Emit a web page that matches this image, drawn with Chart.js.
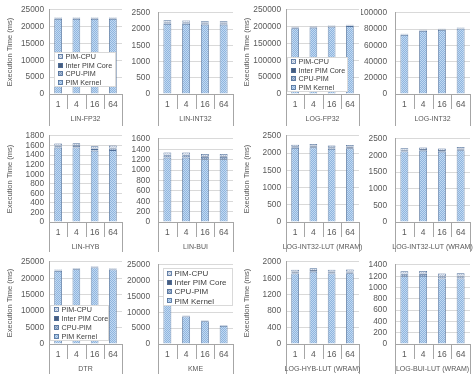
<!DOCTYPE html>
<html><head><meta charset="utf-8">
<script src="https://cdn.jsdelivr.net/npm/chart.js@4.4.1/dist/chart.umd.min.js"></script>
<style>
html,body{margin:0;padding:0;background:#fff;width:474px;height:379px;overflow:hidden}
canvas{position:absolute}
</style></head><body>
<script>
// ---------- DATA ----------
const categories = ['1', '4', '16', '64'];
const seriesNames = ['PIM Kernel', 'CPU-PIM', 'Inter PIM Core', 'PIM-CPU'];
const chartTitles = ['LIN-FP32', 'LIN-INT32', 'LOG-FP32', 'LOG-INT32',
  'LIN-HYB', 'LIN-BUI', 'LOG-INT32-LUT (MRAM)', 'LOG-INT32-LUT (WRAM)',
  'DTR', 'KME', 'LOG-HYB-LUT (WRAM)', 'LOG-BUI-LUT (WRAM)'];
const yMax = [25000, 2500, 250000, 100000, 1800, 1600, 2500, 2500, 25000, 25000, 2000, 1400];
const yStep = [5000, 500, 50000, 20000, 200, 200, 500, 500, 5000, 5000, 400, 200];

// each: [PIM Kernel, CPU-PIM, Inter PIM Core, PIM-CPU]
const linFp32 = [[22350, 22350, 22350, 22350], [150, 150, 150, 150], [100, 100, 100, 100], [150, 150, 150, 150]];
const linInt32 = [[2165, 2165, 2135, 2135], [40, 40, 40, 40], [25, 25, 30, 30], [45, 40, 40, 40]];
const logFp32 = [[196000, 197500, 200000, 202000], [1500, 1500, 1500, 1500], [800, 800, 800, 800], [1700, 1700, 1700, 1700]];
const logInt32 = [[73000, 77800, 79000, 80500], [600, 600, 600, 600], [300, 300, 300, 300], [600, 600, 600, 600]];
const linHyb = [[1555, 1560, 1490, 1505], [30, 30, 35, 35], [15, 15, 15, 15], [45, 45, 45, 45]];
const linBui = [[1240, 1240, 1210, 1210], [45, 45, 45, 45], [10, 10, 10, 10], [45, 45, 45, 45]];
const logInt32LutMram = [[2150, 2170, 2125, 2140], [20, 20, 20, 20], [30, 30, 30, 35], [45, 45, 45, 45]];
const logInt32LutWram = [[2125, 2145, 2115, 2160], [20, 20, 20, 20], [30, 30, 30, 30], [45, 45, 45, 45]];
const dtr = [[22300, 22800, 23300, 22700], [150, 150, 150, 150], [100, 100, 100, 100], [150, 150, 150, 150]];
const kme = [[23100, 8700, 7200, 5700], [150, 120, 120, 120], [100, 80, 80, 80], [150, 100, 100, 100]];
const logHybLutWram = [[1720, 1760, 1720, 1725], [20, 20, 20, 20], [25, 25, 25, 25], [45, 45, 45, 45]];
const logBuiLutWram = [[1200, 1205, 1160, 1160], [35, 35, 35, 35], [10, 10, 10, 15], [45, 45, 45, 45]];

const allValues = [linFp32, linInt32, logFp32, logInt32, linHyb, linBui,
  logInt32LutMram, logInt32LutWram, dtr, kme, logHybLutWram, logBuiLutWram];

// ---------- STYLE / LAYOUT ----------
const FONT = '"Liberation Sans", Arial, sans-serif';
const TXT = '#595959';
const AXIS = '#A6A6A6';
const GRID = '#D9D9D9';

function makePattern(base, dot) {
  const c = document.createElement('canvas');
  c.width = 2; c.height = 2;
  const g = c.getContext('2d');
  g.fillStyle = base; g.fillRect(0, 0, 2, 2);
  g.fillStyle = dot; g.fillRect(0, 0, 1, 1); g.fillRect(1, 1, 1, 1);
  return g.createPattern(c, 'repeat');
}
const fills = [
  makePattern('#C2D9F1', '#8FB5DF'),   // PIM Kernel
  makePattern('#AFC2DB', '#7E96B8'),   // CPU-PIM
  '#475C7E',                           // Inter PIM Core
  makePattern('#E2E8F1', '#B3C2D8')    // PIM-CPU
];

const cols = [
  { left: 0, w: 130, axisW: 49, padR: 8, tickPad: 5, title: true },
  { left: 124, w: 113, axisW: 34, padR: 4, tickPad: 8, title: false },
  { left: 237, w: 130, axisW: 49, padR: 8, tickPad: 5, title: true },
  { left: 361, w: 113, axisW: 34, padR: 4, tickPad: 8, title: false }
];
const rows = [
  { top: 0, h: 126, padT: 7, padB: 0, xH: 32 },
  { top: 126, h: 126, padT: 7, padB: 0, xH: 30 },
  { top: 252, h: 127, padT: 5, padB: 5, xH: 30 }
];
// legend boxes: chart index -> [dx from plot left, dy from plot top, width, height, font size]
const legendBoxes = { 0: [5, 42, 61, 34, 7.2], 2: [1, 47, 60, 34, 7.2], 8: [1, 43, 58, 35, 7.2], 9: [5, 3, 69, 37, 8] };

const decor = {
  id: 'decor',
  afterDraw(chart, args, o) {
    const ctx = chart.ctx, xs = chart.scales.x, ca = chart.chartArea;
    const n = chart.data.labels.length;
    ctx.save();
    ctx.strokeStyle = AXIS; ctx.lineWidth = 1;
    for (let i = 0; i <= n; i++) {
      const px = Math.round(xs.getPixelForValue(i - 0.5)) + 0.5;
      const outer = (i === 0 || i === n);
      ctx.beginPath();
      ctx.moveTo(px, ca.bottom);
      ctx.lineTo(px, outer ? chart.height - o.padB : ca.bottom + 15);
      ctx.stroke();
    }
    ctx.fillStyle = TXT;
    ctx.font = '7px ' + FONT;
    ctx.textAlign = 'center'; ctx.textBaseline = 'middle';
    ctx.fillText(o.group, (ca.left + ca.right) / 2, ca.bottom + 25);
    const lb = o.legend;
    if (lb) {
      const [dx, dy, w, h, fs] = lb;
      const x0 = Math.round(ca.left + dx) + 0.5, y0 = Math.round(ca.top + dy) + 0.5;
      ctx.fillStyle = '#FFFFFF';
      ctx.fillRect(x0, y0, w, h);
      ctx.strokeStyle = GRID;
      ctx.strokeRect(x0, y0, w, h);
      const ds = chart.data.datasets;
      const step = h / 4;
      ctx.font = fs + 'px ' + FONT;
      ctx.textAlign = 'left';
      for (let k = 0; k < 4; k++) {
        const d = ds[3 - k];
        const cy = y0 + step * (k + 0.5);
        const s = 5;
        ctx.fillStyle = d.backgroundColor;
        ctx.fillRect(Math.round(x0 + 3), Math.round(cy - s / 2), s, s);
        ctx.strokeStyle = d.borderColor;
        ctx.lineWidth = 0.8;
        ctx.strokeRect(Math.round(x0 + 3) + 0.5, Math.round(cy - s / 2) + 0.5, s - 1, s - 1);
        ctx.fillStyle = '#404040';
        ctx.fillText(d.label, x0 + 11, cy + 0.5);
      }
    }
    ctx.restore();
  }
};

allValues.forEach((vals, idx) => {
  const col = cols[idx % 4], row = rows[Math.floor(idx / 4)];
  const cv = document.createElement('canvas');
  cv.width = col.w; cv.height = row.h;
  cv.style.left = col.left + 'px'; cv.style.top = row.top + 'px';
  cv.style.width = col.w + 'px'; cv.style.height = row.h + 'px';
  document.body.appendChild(cv);
  new Chart(cv, {
    type: 'bar',
    data: {
      labels: categories,
      datasets: vals.map((v, k) => ({
        label: seriesNames[k], data: v,
        backgroundColor: fills[k], borderColor: '#4F6E98', borderWidth: 0.8,
        barPercentage: 0.42, categoryPercentage: 1.0, stack: 's'
      }))
    },
    options: {
      responsive: false, animation: false, devicePixelRatio: 1,
      layout: { padding: { top: row.padT, bottom: row.padB, left: 0, right: col.padR } },
      plugins: {
        legend: { display: false }, tooltip: { enabled: false },
        decor: { group: chartTitles[idx], legend: legendBoxes[idx] || null, padB: row.padB }
      },
      scales: {
        x: {
          stacked: true, offset: true,
          grid: { display: false, drawTicks: false },
          border: { display: true, color: AXIS },
          ticks: { color: TXT, font: { family: FONT, size: 8.5 }, padding: 6, maxRotation: 0, autoSkip: false },
          afterFit: s => { s.height = row.xH; }
        },
        y: {
          stacked: true, min: 0, max: yMax[idx],
          grid: { color: GRID, drawTicks: false },
          border: { display: true, color: AXIS },
          ticks: { stepSize: yStep[idx], autoSkip: false, color: TXT, font: { family: FONT, size: 8.3 }, padding: col.tickPad, callback: v => String(v) },
          title: { display: col.title, text: 'Execution Time (ms)', color: TXT, font: { family: FONT, size: 7.5 }, padding: { top: 5, bottom: 0 } },
          afterFit: s => { s.width = col.axisW; }
        }
      }
    },
    plugins: [decor]
  });
});
</script>
</body></html>
